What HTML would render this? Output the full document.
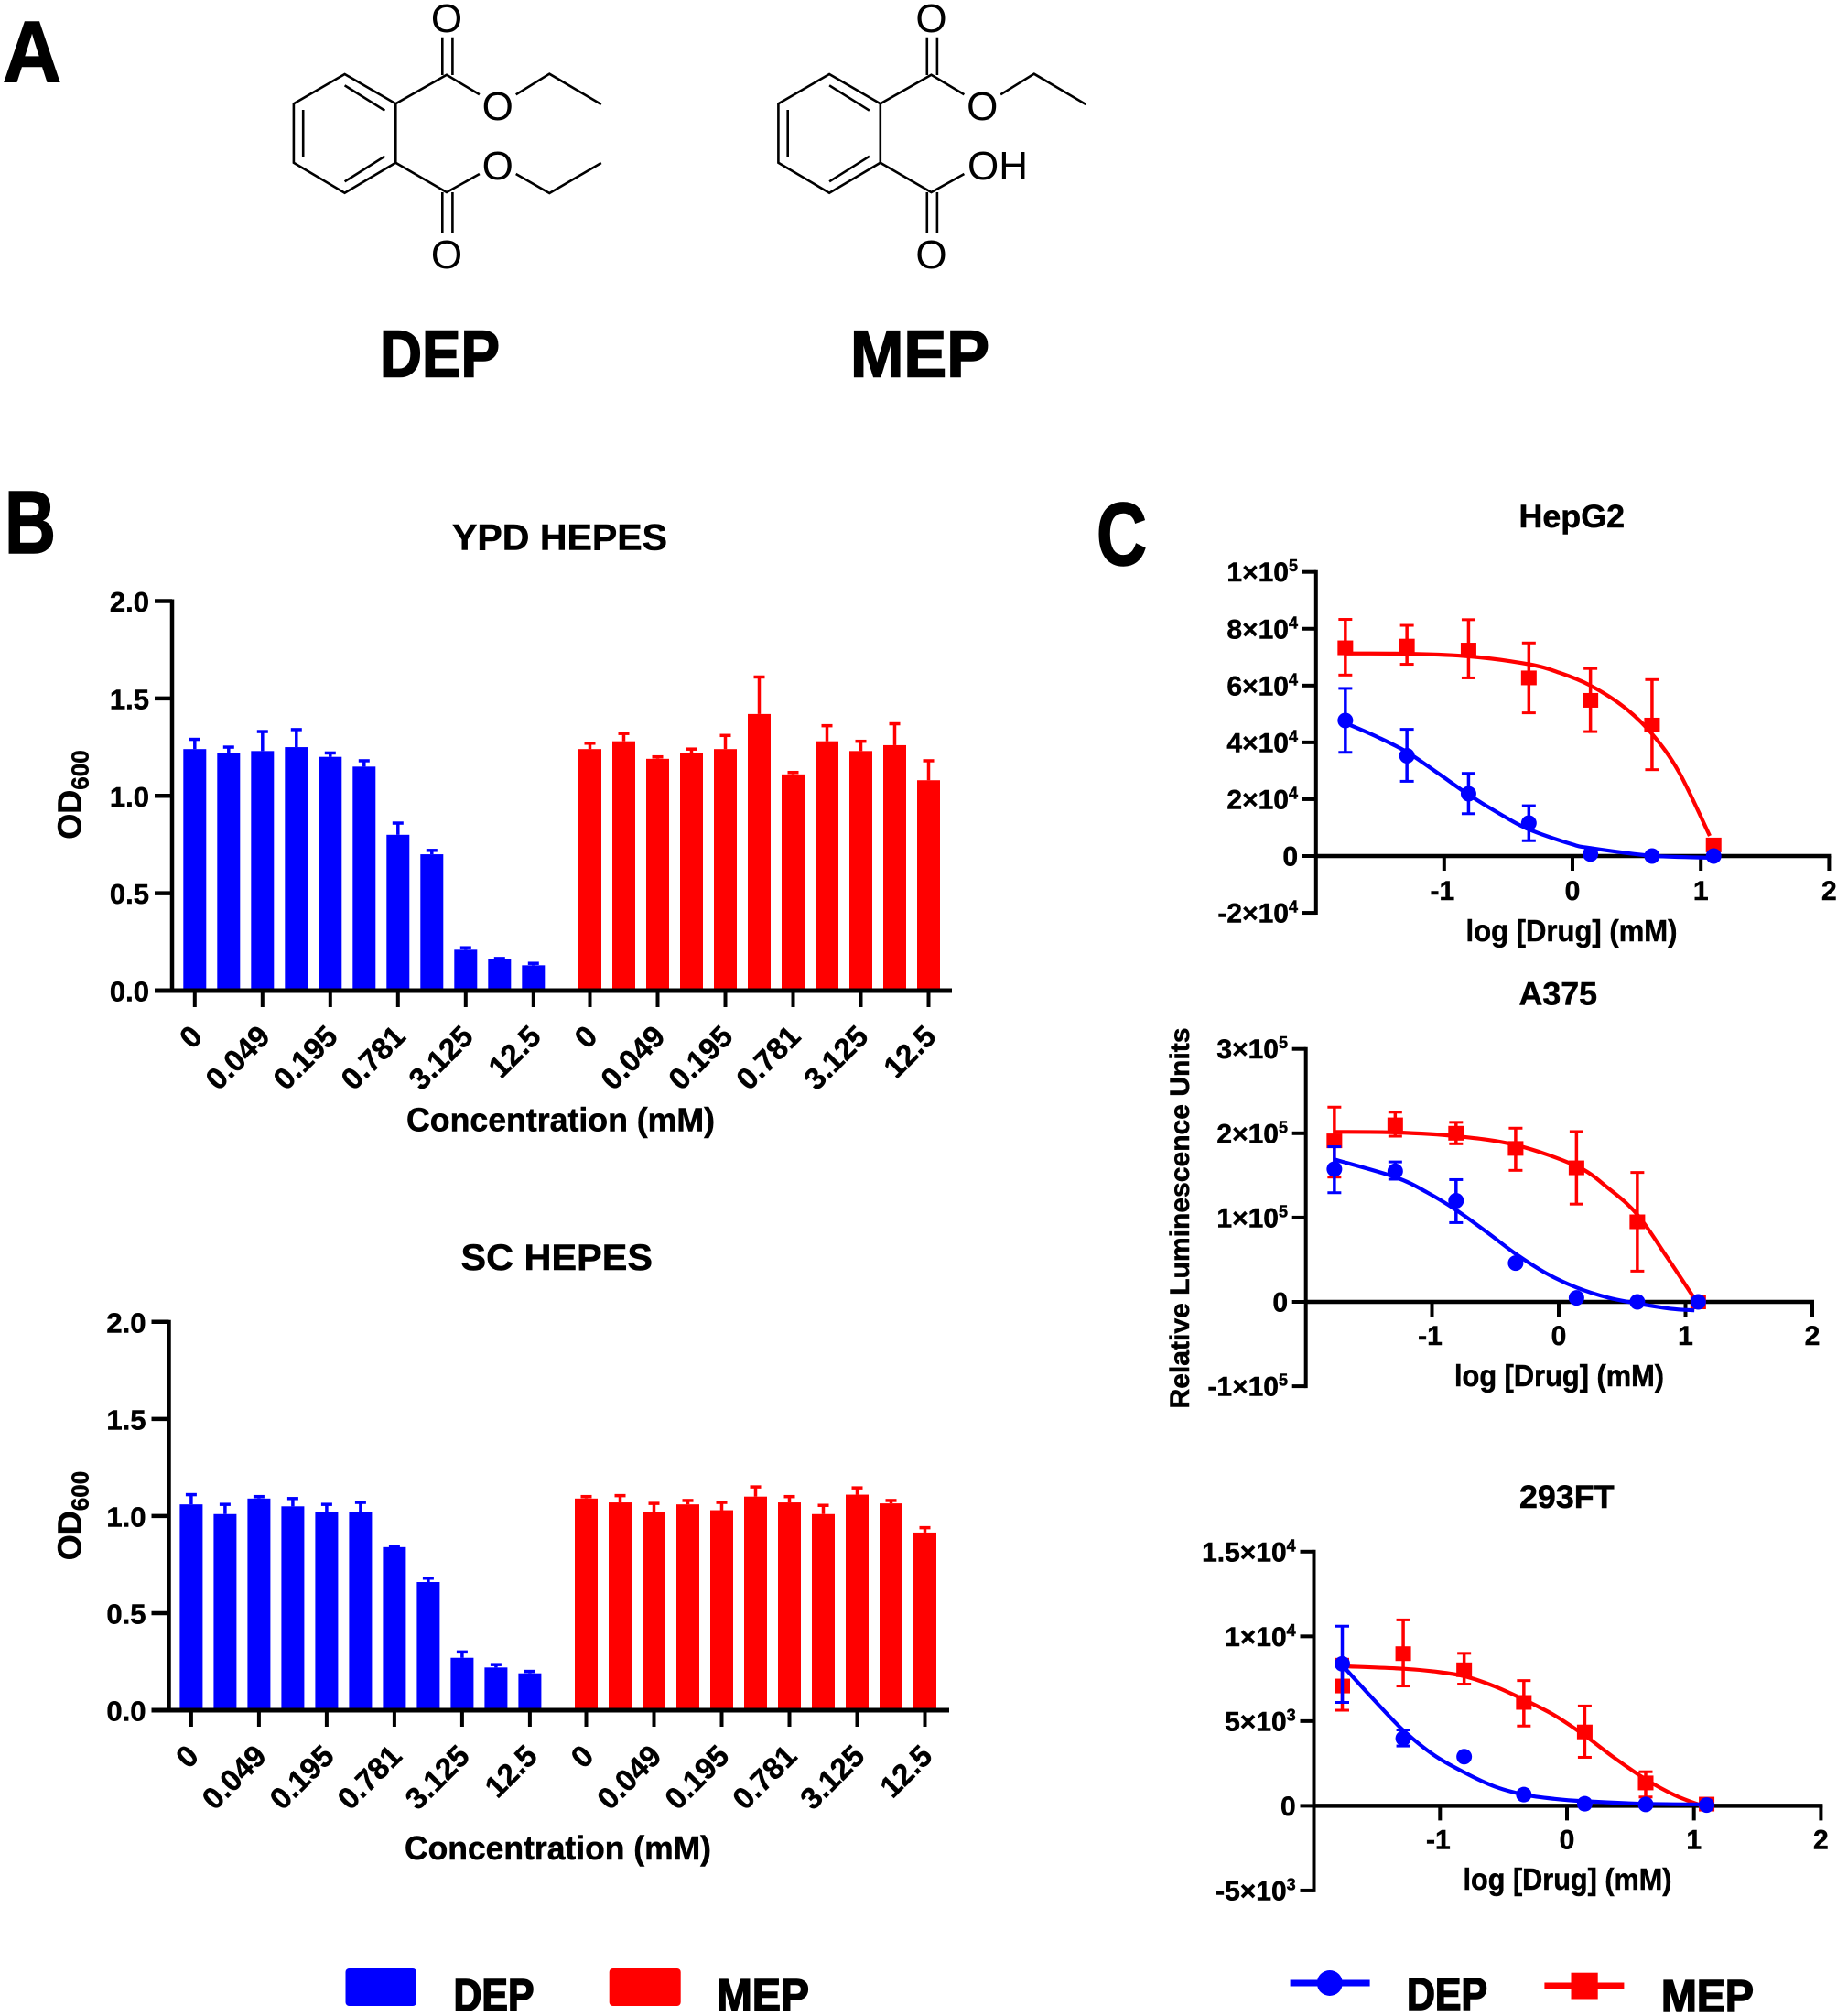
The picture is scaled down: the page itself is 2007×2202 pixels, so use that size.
<!DOCTYPE html>
<html>
<head>
<meta charset="utf-8">
<title>DEP and MEP figure</title>
<style>
html,body{margin:0;padding:0;background:#fff;}
svg{display:block;}
text{font-family:"Liberation Sans",sans-serif;font-weight:bold;fill:#000;stroke:#000;stroke-width:0.5;}
.bond{stroke:#000;stroke-width:2.6;fill:none;stroke-linecap:butt;stroke-linejoin:miter;}
text.atom{font-weight:normal;stroke:none;}
text.heavy{stroke-width:1.6;}
</style>
</head>
<body>
<svg id="fig" width="2007" height="2202" viewBox="0 0 2007 2202" xmlns="http://www.w3.org/2000/svg">
<rect x="0" y="0" width="2007" height="2202" fill="#fff"/>

<text class="heavy" x="3" y="89" font-size="95" textLength="64" lengthAdjust="spacingAndGlyphs">A</text>
<text class="heavy" x="5" y="604" font-size="97" textLength="56" lengthAdjust="spacingAndGlyphs">B</text>
<text class="heavy" x="1198" y="617" font-size="97" textLength="55" lengthAdjust="spacingAndGlyphs">C</text>

<g>
  <path class="bond" d="M376.6 81L432.3 113.3V177.7L376.6 210.7L320.9 177.7V113.3Z"/>
  <path class="bond" d="M376.6 93.3L420.4 120.7M331.2 120V171.7M376.6 198.3L420.4 170.7"/>
  <path class="bond" d="M432.3 113.3L488 81.7L523.9 103.3M563.7 103.3L600.3 80.7L656.8 114"/>
  <path class="bond" d="M483.3 40.7V82M494.4 40.7V82"/>
  <path class="bond" d="M432.3 177.7L488 210L523.9 190M563.7 190L600.3 211L656.8 178"/>
  <path class="bond" d="M483.3 210V254M494.4 210V254"/>
  <text class="atom" x="488" y="35" font-size="44" text-anchor="middle">O</text>
  <text class="atom" x="543.8" y="131" font-size="44" text-anchor="middle">O</text>
  <text class="atom" x="543.8" y="196" font-size="44" text-anchor="middle">O</text>
  <text class="atom" x="488" y="293" font-size="44" text-anchor="middle">O</text>
</g>
<text class="heavy" x="415" y="411.7" font-size="72" textLength="131" lengthAdjust="spacingAndGlyphs">DEP</text>

<g transform="translate(529.5 0)">
  <path class="bond" d="M376.6 81L432.3 113.3V177.7L376.6 210.7L320.9 177.7V113.3Z"/>
  <path class="bond" d="M376.6 93.3L420.4 120.7M331.2 120V171.7M376.6 198.3L420.4 170.7"/>
  <path class="bond" d="M432.3 113.3L488 81.7L523.9 103.3M563.7 103.3L600.3 80.7L656.8 114"/>
  <path class="bond" d="M483.3 40.7V82M494.4 40.7V82"/>
  <path class="bond" d="M432.3 177.7L488 210L523.9 190"/>
  <path class="bond" d="M483.3 210V254M494.4 210V254"/>
  <text class="atom" x="488" y="35" font-size="44" text-anchor="middle">O</text>
  <text class="atom" x="543.8" y="131" font-size="44" text-anchor="middle">O</text>
  <text class="atom" x="527.5" y="196" font-size="44" textLength="66" lengthAdjust="spacingAndGlyphs">OH</text>
  <text class="atom" x="488" y="293" font-size="44" text-anchor="middle">O</text>
</g>
<text class="heavy" x="929" y="411.7" font-size="72" textLength="152" lengthAdjust="spacingAndGlyphs">MEP</text>

<g id="charts"></g>

<g>
  <rect x="377.5" y="2150" width="77.5" height="41" rx="4" fill="#0000ff"/>
  <text class="heavy" x="495.5" y="2196" font-size="49" textLength="88" lengthAdjust="spacingAndGlyphs">DEP</text>
  <rect x="665.7" y="2150" width="78" height="41" rx="4" fill="#ff0000"/>
  <text class="heavy" x="783" y="2196" font-size="49" textLength="101" lengthAdjust="spacingAndGlyphs">MEP</text>
</g>
<g>
  <line x1="1409.6" x2="1496.6" y1="2166" y2="2166" stroke="#0000ff" stroke-width="7"/>
  <ellipse cx="1452.8" cy="2166" rx="14" ry="14" fill="#0000ff"/>
  <text class="heavy" x="1537" y="2195" font-size="49" textLength="88" lengthAdjust="spacingAndGlyphs">DEP</text>
  <line x1="1687.4" x2="1774.4" y1="2169" y2="2169" stroke="#ff0000" stroke-width="7"/>
  <rect x="1716.5" y="2154.7" width="29.2" height="28.8" fill="#ff0000"/>
  <text class="heavy" x="1815" y="2197" font-size="49" textLength="101" lengthAdjust="spacingAndGlyphs">MEP</text>
</g>
</svg>

<script>
// ---------- Panel B data ----------
const barCategories = ["0","0.049","0.195","0.781","3.125","12.5"];
const barYTicks = [0,0.5,1,1.5,2];
const barYLabels = ["0.0","0.5","1.0","1.5","2.0"];

const ypdDepMean = [1.24,1.22,1.23,1.25,1.20,1.15,0.80,0.70,0.21,0.16,0.13];
const ypdDepTop  = [1.29,1.25,1.33,1.34,1.22,1.18,0.86,0.72,0.22,0.165,0.14];
const ypdMepMean = [1.24,1.28,1.19,1.22,1.24,1.42,1.11,1.28,1.23,1.26,1.08];
const ypdMepTop  = [1.27,1.32,1.20,1.24,1.31,1.61,1.12,1.36,1.28,1.37,1.18];

const scDepMean = [1.06,1.01,1.09,1.05,1.02,1.02,0.84,0.66,0.27,0.22,0.19];
const scDepTop  = [1.11,1.06,1.10,1.09,1.06,1.07,0.845,0.68,0.30,0.235,0.20];
const scMepMean = [1.09,1.07,1.02,1.06,1.03,1.10,1.07,1.01,1.11,1.065,0.915];
const scMepTop  = [1.10,1.105,1.065,1.08,1.07,1.15,1.10,1.055,1.145,1.08,0.94];

// ---------- Panel C data ----------
const doseLog = [-1.77,-1.29,-0.81,-0.34,0.14,0.62,1.10];
const curveXTicks = [-1,0,1,2];

const hepYTicks = [-20000,0,20000,40000,60000,80000,100000];
const hepYLabels = ["-2×10^4","0","2×10^4","4×10^4","6×10^4","8×10^4","1×10^5"];
const hepDepMean = [47700,35300,21900,11600,700,0,0];
const hepDepUpper = [59000,44600,29100,17700,null,null,null];
const hepDepLower = [36500,26300,14900,5400,null,null,null];
const hepMepMean = [73300,73900,72500,62700,54800,46100,3900];
const hepMepUpper = [83300,81200,83200,75000,66000,62100,null];
const hepMepLower = [63700,67500,62700,50400,43800,30400,null];
const hepDepCurveX = [-1.77,-1.52,-1.29,-1.05,-0.81,-0.55,-0.34,0,0.14,0.62,1.10];
const hepDepCurveY = [46800,41900,36600,29200,21600,14400,9400,4100,2800,100,-600];
const hepMepCurveX = [-1.77,-1.29,-0.81,-0.34,-0.1,0.14,0.4,0.62,0.83,1.07];
const hepMepCurveY = [71300,71200,70300,67500,64500,60000,52500,43000,29500,7100];

const a375YTicks = [-100000,0,100000,200000,300000];
const a375YLabels = ["-1×10^5","0","1×10^5","2×10^5","3×10^5"];
const a375DepMean = [157500,155000,120000,46000,4700,0,0];
const a375DepUpper = [184000,166000,145000,null,null,null,null];
const a375DepLower = [129500,145500,94000,null,null,null,null];
const a375MepMean = [191000,210000,200000,182000,159000,95000,0];
const a375MepUpper = [231000,225000,213000,206000,202000,153500,null];
const a375MepLower = [148000,196500,187500,156000,116000,36500,null];
const a375DepCurveX = [-1.77,-1.29,-1.04,-0.81,-0.57,-0.34,-0.1,0.14,0.39,0.62,0.88,1.07];
const a375DepCurveY = [169000,148000,130000,109000,83000,57000,34000,17000,5000,-2000,-8000,-10000];
const a375MepCurveX = [-1.77,-1.29,-0.81,-0.34,0.14,0.39,0.62,0.85,1.07];
const a375MepCurveY = [201600,201000,196500,186000,161000,135000,103500,54000,4000];

const ftYTicks = [-5000,0,5000,10000,15000];
const ftYLabels = ["-5×10^3","0","5×10^3","1×10^4","1.5×10^4"];
const ftDepMean = [8380,3980,2900,660,120,80,40];
const ftDepUpper = [10600,4480,null,null,null,null,null];
const ftDepLower = [6100,3530,null,null,null,null,null];
const ftMepMean = [7070,8980,8030,6100,4360,1350,100];
const ftMepUpper = [8650,10970,9000,7390,5890,2010,null];
const ftMepLower = [5640,7070,7180,4710,2860,520,null];
const ftDepCurveX = [-1.77,-1.53,-1.29,-1.05,-0.81,-0.57,-0.34,-0.1,0.14,0.62,1.10];
const ftDepCurveY = [8300,6330,4460,3000,1970,1140,660,410,270,120,80];
const ftMepCurveX = [-1.77,-1.29,-1.05,-0.81,-0.57,-0.34,-0.1,0.14,0.37,0.62,0.85,1.05];
const ftMepCurveY = [8240,8090,7930,7650,7050,6270,5350,4150,2850,1560,620,40];

const NS = "http://www.w3.org/2000/svg";
const BLUE = "#0000ff", RED = "#ff0000";
const root = document.getElementById("charts");

function mk(parent, tag, name, attrs) {
  const el = document.createElementNS(NS, tag);
  for (const k in attrs) el.setAttribute(k, attrs[k]);
  
  
  parent.appendChild(el);
  return el;
}
function txt(parent, name, str, attrs) {
  const el = mk(parent, "text", name, attrs);
  el.textContent = str;
  return el;
}
function group(parent, name) { return mk(parent, "g", name, {}); }

function barChart(o) {
  const g = group(root, o.name);
  const y = v => o.y0 + (o.y2 - o.y0) * v / 2;
  txt(g, "chart-title", o.title, {x:o.titleX, y:o.titleY, "font-size":40, textLength:o.titleLen, lengthAdjust:"spacingAndGlyphs"});
  const drawBars = (means, tops, start, color, series) => {
    means.forEach((m, i) => {
      const cx = start + i * o.step + o.barW / 2;
      mk(g, "rect", "bar-" + series, {x:start + i * o.step, y:y(m), width:o.barW, height:o.y0 - y(m), fill:color});
      mk(g, "line", "error-stem-" + series, {x1:cx, x2:cx, y1:y(m), y2:y(tops[i]), stroke:color, "stroke-width":3.5});
      mk(g, "line", "error-cap-" + series, {x1:cx - 6, x2:cx + 6, y1:y(tops[i]), y2:y(tops[i]), stroke:color, "stroke-width":3.5});
    });
  };
  drawBars(o.dep, o.depTop, o.depStart, BLUE, "dep");
  drawBars(o.mep, o.mepTop, o.mepStart, RED, "mep");
  // axes
  mk(g, "line", "y-axis", {x1:o.ax, x2:o.ax, y1:y(2) - 2, y2:o.y0 + 2, stroke:"#000", "stroke-width":4.5});
  mk(g, "line", "x-axis", {x1:o.ax - 19, x2:o.right, y1:o.y0, y2:o.y0, stroke:"#000", "stroke-width":5});
  barYTicks.forEach((v, i) => {
    if (v !== 0) mk(g, "line", "y-tick", {x1:o.ax - 19, x2:o.ax, y1:y(v), y2:y(v), stroke:"#000", "stroke-width":4.5});
    txt(g, "y-tick-label", barYLabels[i], {x:o.ax - 25, y:y(v) + 11.5, "font-size":31, "text-anchor":"end"});
  });
  const xTicks = (start) => barCategories.forEach((c, i) => {
    const tx = start + i * 2 * o.step + o.barW / 2;
    mk(g, "line", "x-tick", {x1:tx, x2:tx, y1:o.y0, y2:o.tickEnd, stroke:"#000", "stroke-width":4});
    const lx = tx + 10, ly = o.labelY;
    txt(g, "x-tick-label", c, {x:lx, y:ly, "font-size":33, "text-anchor":"end", transform:"rotate(-45 " + lx + " " + ly + ")"});
  });
  xTicks(o.depStart);
  xTicks(o.mepStart);
  txt(g, "x-axis-title", "Concentration (mM)", {x:o.xtX, y:o.xtY, "font-size":36, textLength:o.xtLen, lengthAdjust:"spacingAndGlyphs"});
  const od = txt(g, "y-axis-title", "", {x:88.5, y:o.odY, "text-anchor":"middle", transform:"rotate(-90 88.5 " + o.odY + ")"});
  const t1 = document.createElementNS(NS, "tspan");
  t1.setAttribute("font-size", "36");
  t1.textContent = "OD";
  od.appendChild(t1);
  const t2 = document.createElementNS(NS, "tspan");
  t2.setAttribute("font-size", "26");
  t2.setAttribute("dy", "8");
  t2.textContent = "600";
  od.appendChild(t2);
}

function smoothPath(px) {
  let d = "M" + px[0][0].toFixed(1) + " " + px[0][1].toFixed(1);
  for (let i = 0; i < px.length - 1; i++) {
    const p0 = px[Math.max(i - 1, 0)], p1 = px[i], p2 = px[i + 1], p3 = px[Math.min(i + 2, px.length - 1)];
    const c1x = p1[0] + (p2[0] - p0[0]) / 6, c1y = p1[1] + (p2[1] - p0[1]) / 6;
    const c2x = p2[0] - (p3[0] - p1[0]) / 6, c2y = p2[1] - (p3[1] - p1[1]) / 6;
    d += "C" + c1x.toFixed(1) + " " + c1y.toFixed(1) + " " + c2x.toFixed(1) + " " + c2y.toFixed(1) + " " + p2[0].toFixed(1) + " " + p2[1].toFixed(1);
  }
  return d;
}

function curveChart(o) {
  const g = group(root, o.name);
  const x = v => o.x0 + (v - 0) * o.pxPerX;
  const y = v => o.yZero + (o.yTop - o.yZero) * v / o.topVal;
  txt(g, "chart-title", o.title, {x:o.titleX, y:o.titleY, "font-size":35, textLength:o.titleLen, lengthAdjust:"spacingAndGlyphs"});
  // axes
  const yMin = o.yTicks[0], yMax = o.yTicks[o.yTicks.length - 1];
  mk(g, "line", "y-axis", {x1:o.ax, x2:o.ax, y1:y(yMax) - 2, y2:y(yMin) + 2, stroke:"#000", "stroke-width":4});
  mk(g, "line", "x-axis", {x1:o.ax, x2:x(2) + 2, y1:y(0), y2:y(0), stroke:"#000", "stroke-width":4.5});
  o.yTicks.forEach((v, i) => {
    mk(g, "line", "y-tick", {x1:o.ax - 15, x2:o.ax, y1:y(v), y2:y(v), stroke:"#000", "stroke-width":4});
    const parts = o.yLabels[i].split("^");
    const t = txt(g, "y-tick-label", "", {x:o.labelRight, y:y(v) + 10.5, "font-size":30, "text-anchor":"end"});
    const a = document.createElementNS(NS, "tspan");
    a.textContent = parts[0];
    t.appendChild(a);
    if (parts[1]) {
      const b = document.createElementNS(NS, "tspan");
      b.setAttribute("font-size", "18");
      b.setAttribute("dy", "-11");
      b.textContent = parts[1];
      t.appendChild(b);
    }
  });
  curveXTicks.forEach(v => {
    mk(g, "line", "x-tick", {x1:x(v), x2:x(v), y1:y(0), y2:y(0) + 16, stroke:"#000", "stroke-width":4});
    txt(g, "x-tick-label", String(v), {x:x(v) - (v < 0 ? 2 : 0), y:o.xLabelY + 1, "font-size":30, "text-anchor":"middle"});
  });
  txt(g, "x-axis-title", "log [Drug] (mM)", {x:o.xtX, y:o.xtY, "font-size":33, textLength:o.xtLen, lengthAdjust:"spacingAndGlyphs"});
  // series: MEP beneath, DEP on top
  const series = (mean, up, lo, cx_, cy_, color, sname, square) => {
    mk(g, "path", "fit-curve-" + sname, {d:smoothPath(cx_.map((v, i) => [x(v), y(cy_[i])])), fill:"none", stroke:color, "stroke-width":4.2});
    mean.forEach((m, i) => {
      const px = x(doseLog[i]);
      if (up[i] !== null) {
        mk(g, "line", "error-bar-" + sname, {x1:px, x2:px, y1:y(up[i]), y2:y(lo[i]), stroke:color, "stroke-width":3.5});
        mk(g, "line", "error-cap-" + sname, {x1:px - 7.5, x2:px + 7.5, y1:y(up[i]), y2:y(up[i]), stroke:color, "stroke-width":3});
        mk(g, "line", "error-cap-" + sname, {x1:px - 7.5, x2:px + 7.5, y1:y(lo[i]), y2:y(lo[i]), stroke:color, "stroke-width":3});
      }
      if (square) mk(g, "rect", "point-" + sname, {x:px - 8.5, y:y(m) - 8, width:17, height:16, fill:color});
      else mk(g, "ellipse", "point-" + sname, {cx:px, cy:y(m), rx:8.5, ry:8.5, fill:color});
    });
  };
  series(o.mep, o.mepUp, o.mepLo, o.mepCx, o.mepCy, RED, "mep", true);
  series(o.dep, o.depUp, o.depLo, o.depCx, o.depCy, BLUE, "dep", false);
}

barChart({name:"ypd-hepes-chart", title:"YPD HEPES", titleX:494, titleY:600.6, titleLen:235,
  ax:188, y0:1082, y2:656.5, right:1040, step:37, barW:25, depStart:200.3, mepStart:632,
  tickEnd:1100, labelY:1134, xtX:444, xtY:1235.6, xtLen:337, odY:868,
  dep:ypdDepMean, depTop:ypdDepTop, mep:ypdMepMean, mepTop:ypdMepTop});

barChart({name:"sc-hepes-chart", title:"SC HEPES", titleX:503.5, titleY:1387, titleLen:209.5,
  ax:184.5, y0:1868, y2:1443.8, right:1037, step:37, barW:25, depStart:196.4, mepStart:628,
  tickEnd:1886, labelY:1920, xtX:442, xtY:2031, xtLen:335, odY:1655.5,
  dep:scDepMean, depTop:scDepTop, mep:scMepMean, mepTop:scMepTop});

curveChart({name:"hepg2-chart", title:"HepG2", titleX:1659.5, titleY:576, titleLen:115.5,
  ax:1437.8, x0:1718, pxPerX:140.2, yZero:935, yTop:624.7, topVal:100000, labelRight:1418, xLabelY:982,
  xtX:1601.5, xtY:1028, xtLen:231, yTicks:hepYTicks, yLabels:hepYLabels,
  dep:hepDepMean, depUp:hepDepUpper, depLo:hepDepLower, depCx:hepDepCurveX, depCy:hepDepCurveY,
  mep:hepMepMean, mepUp:hepMepUpper, mepLo:hepMepLower, mepCx:hepMepCurveX, mepCy:hepMepCurveY});

curveChart({name:"a375-chart", title:"A375", titleX:1659.5, titleY:1097.7, titleLen:85.5,
  ax:1426.7, x0:1703, pxPerX:138.5, yZero:1422, yTop:1145.7, topVal:300000, labelRight:1407, xLabelY:1468,
  xtX:1589, xtY:1514, xtLen:229, yTicks:a375YTicks, yLabels:a375YLabels,
  dep:a375DepMean, depUp:a375DepUpper, depLo:a375DepLower, depCx:a375DepCurveX, depCy:a375DepCurveY,
  mep:a375MepMean, mepUp:a375MepUpper, mepLo:a375MepLower, mepCx:a375MepCurveX, mepCy:a375MepCurveY});

curveChart({name:"293ft-chart", title:"293FT", titleX:1660, titleY:1647, titleLen:103.6,
  ax:1435.5, x0:1712, pxPerX:138.7, yZero:1972.4, yTop:1694.8, topVal:15000, labelRight:1415.7, xLabelY:2018.4,
  xtX:1598.5, xtY:2064, xtLen:228, yTicks:ftYTicks, yLabels:ftYLabels,
  dep:ftDepMean, depUp:ftDepUpper, depLo:ftDepLower, depCx:ftDepCurveX, depCy:ftDepCurveY,
  mep:ftMepMean, mepUp:ftMepUpper, mepLo:ftMepLower, mepCx:ftMepCurveX, mepCy:ftMepCurveY});

const shared = txt(root, "shared-y-axis-title", "Relative Luminescence Units", {x:1299, y:1538.5 , "font-size":30, textLength:416, lengthAdjust:"spacingAndGlyphs", transform:"rotate(-90 1299 1538.5)"});
</script>
</body>
</html>
